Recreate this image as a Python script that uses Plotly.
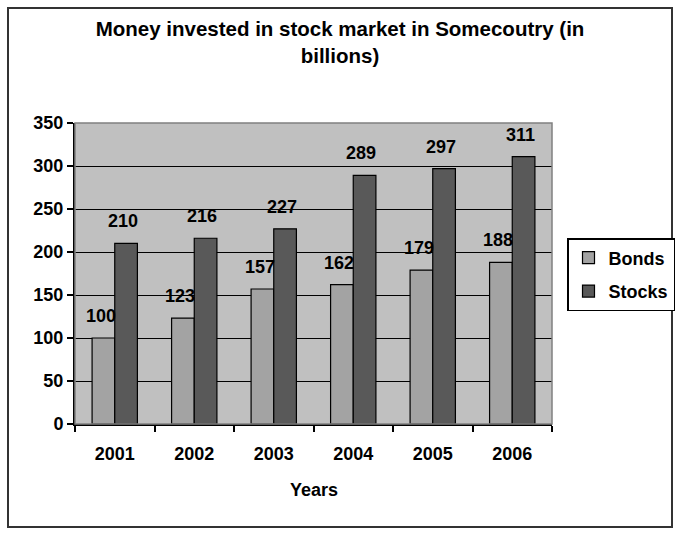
import plotly.graph_objects as go

years = ["2001", "2002", "2003", "2004", "2005", "2006"]
bonds = [100, 123, 157, 162, 179, 188]
stocks = [210, 216, 227, 289, 297, 311]

FONT = "Liberation Sans, Arial, sans-serif"

fig = go.Figure()
fig.add_trace(go.Bar(name="Bonds", x=years, y=bonds, legendgroup="b",
                     marker=dict(color="#a3a3a3", line=dict(color="black", width=1.2))))
fig.add_trace(go.Bar(name="Stocks", x=years, y=stocks, legendgroup="s",
                     marker=dict(color="#595959", line=dict(color="black", width=1.2))))

annotations = []
for i, (b, s) in enumerate(zip(bonds, stocks)):
    annotations.append(dict(x=i, y=b, xref="x", yref="y", text=str(b), showarrow=False,
                            xshift=-14, yshift=10, yanchor="bottom",
                            font=dict(family=FONT, size=18, color="black", weight="bold")))
    annotations.append(dict(x=i, y=s, xref="x", yref="y", text=str(s), showarrow=False,
                            xshift=8, yshift=10, yanchor="bottom",
                            font=dict(family=FONT, size=18, color="black", weight="bold")))
annotations.append(dict(x=0.5, y=-0.22, xref="paper", yref="paper", text="Years", showarrow=False,
                        yanchor="middle", font=dict(family=FONT, size=18, color="black", weight="bold")))

L, R, T, B = 75, 128, 123, 111
W, H = 680, 535
pw, ph = W - L - R, H - T - B

def px_x(x):
    return (x - L) / pw

def px_y(y):
    return (H - B - y) / ph

fig.update_layout(
    width=W, height=H,
    margin=dict(l=L, r=R, t=T, b=B, autoexpand=False),
    paper_bgcolor="white",
    plot_bgcolor="#c0c0c0",
    barmode="group", bargap=0.43, bargroupgap=0,
    title=dict(text="Money invested in stock market in Somecoutry (in<br>billions)",
               x=0.5, xanchor="center", y=1 - 36 / H, yanchor="middle",
               font=dict(family=FONT, size=20.5, color="black", weight="bold")),
    xaxis=dict(type="category", range=[-0.5, 5.5], showline=True, linecolor="black", linewidth=2,
               ticks="outside", tickson="boundaries", ticklen=6, tickcolor="black", tickwidth=1.5,
               ticklabelstandoff=12,
               tickfont=dict(family=FONT, size=18, color="black", weight="bold"), showgrid=False),
    yaxis=dict(range=[0, 350], dtick=50, showline=True, linecolor="black", linewidth=2,
               ticks="outside", ticklen=6, tickcolor="black", tickwidth=1.5,
               gridcolor="black", gridwidth=1.2, zeroline=False,
               tickfont=dict(family=FONT, size=18, color="black", weight="bold")),
    legend=dict(x=px_x(567), y=px_y(238), xanchor="left", yanchor="top", itemwidth=30,
                traceorder="grouped", tracegroupgap=7,
                bordercolor="black", borderwidth=1.5, bgcolor="white",
                font=dict(family=FONT, size=18, color="black", weight="bold")),
    annotations=annotations,
    shapes=[
        dict(type="rect", xref="paper", yref="paper", x0=0, x1=1, y0=0, y1=1,
             line=dict(color="#808080", width=1.5), layer="above"),
        dict(type="rect", xref="paper", yref="paper", x0=px_x(8), x1=px_x(672), y0=px_y(527), y1=px_y(8),
             line=dict(color="#333333", width=2)),
    ],
)
fig.write_html("out.html", config={"displayModeBar": False},
               post_script="document.body.style.margin='0';document.body.style.padding='0';")
